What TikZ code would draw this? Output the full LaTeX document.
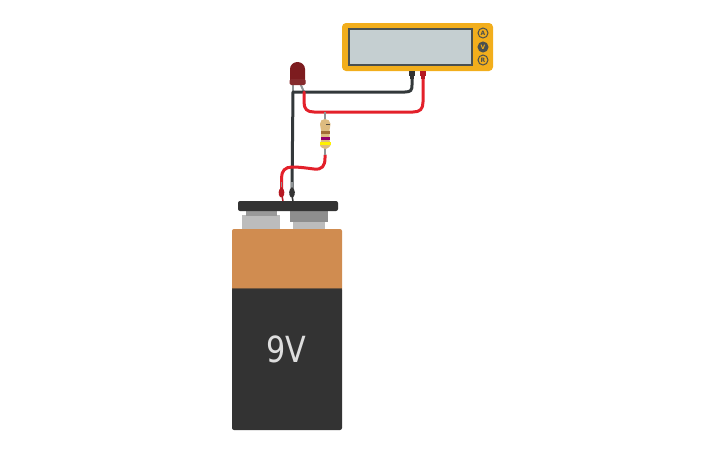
\documentclass[tikz,border=0pt]{standalone}
\usepackage{fontspec}
\setsansfont{DejaVu Sans}
\definecolor{bodydark}{HTML}{333333}
\definecolor{bodyorange}{HTML}{D08C50}
\definecolor{termlight}{HTML}{BCBCBC}
\definecolor{termdark}{HTML}{8E8E8E}
\definecolor{meterorange}{HTML}{F2AE1C}
\definecolor{screenfill}{HTML}{C5CFD1}
\definecolor{screenedge}{HTML}{4A5050}
\definecolor{wirered}{HTML}{E3202A}
\definecolor{wireblack}{HTML}{33383A}
\definecolor{ledred}{HTML}{7D1C1F}
\definecolor{leadgrey}{HTML}{8F9496}
\definecolor{resbody}{HTML}{DDBB7F}
\tikzset{
  meterbutton/.style={circle, draw=screenedge, line width=1pt, minimum size=10pt, inner sep=0pt, text=screenedge, font=\sffamily\bfseries\fontsize{6}{6}\selectfont},
  wire/.style={line width=3pt, line cap=round},
  lead/.style={line width=2pt, leadgrey},
  band/.style={line width=#1}
}
\begin{document}
\begin{tikzpicture}[x=1pt, y=-1pt]
  \useasboundingbox (0, 0) rectangle (725, 453);

  % battery
  \fill[bodyorange, rounded corners=2pt] (232, 229) rectangle (342, 292);
  \fill[bodydark, rounded corners=2pt] (232, 288) rectangle (342, 430);
  \fill[bodydark!60!bodyorange] (232, 288) rectangle (342, 289);
  \node[text=white!87!black, xscale=0.84, font=\sffamily\fontsize{36}{36}\selectfont] (label) at (286.5, 349.5) {9V};
  \fill[termlight] (242, 215) rectangle (280, 229);
  \fill[termdark!90!white] (246, 211) rectangle (277, 216);
  \fill[termlight] (293, 221) rectangle (325, 229);
  \fill[termdark] (290, 211) rectangle (328, 222);
  \fill[bodydark, rounded corners=2pt] (238, 201) rectangle (338, 211);

  % meter
  \fill[meterorange, rounded corners=4pt] (342, 23) rectangle (493, 71);
  \filldraw[fill=screenfill, draw=screenedge, line width=2pt] (349, 29) rectangle (472, 65);
  \node[meterbutton] (btnA) at (483, 33) {A};
  \node[meterbutton, fill=screenedge, text=meterorange] (btnV) at (483, 47) {V};
  \node[meterbutton] (btnR) at (483, 60) {R};

  % named points
  \coordinate (ledk) at (293, 92);
  \coordinate (leda) at (304, 92);
  \coordinate (meterneg) at (412, 77);
  \coordinate (meterpos) at (423, 77);
  \coordinate (restop) at (325, 112);
  \coordinate (resbot) at (325, 155);
  \coordinate (clipred) at (281.5, 190);
  \coordinate (clipblack) at (292, 190);

  % led
  \draw[lead] (293, 83) -- (ledk);
  \draw[lead] (300, 83) -- (leda);
  \fill[ledred] (290, 84) -- (290, 69) arc[start angle=180, end angle=360, x radius=7.5, y radius=7] -- (305, 84) -- cycle;
  \fill[ledred!94!white, rounded corners=1.5pt] (289.5, 79) rectangle (305.5, 85);

  % wires
  \draw[wire, wireblack] (clipblack) -- (ledk);
  \draw[wire, wireblack] (ledk) -- (405, 92) .. controls (411, 92) and (412, 90) .. (412, 85) -- (meterneg);
  \draw[wire, wirered] (leda) -- (304, 102) .. controls (304, 109) and (307, 112) .. (314, 112) -- (413, 112) .. controls (420, 112) and (423, 109) .. (423, 102) -- (meterpos);
  \draw[wire, wirered] (resbot) -- (325, 158) .. controls (325, 166) and (322, 170) .. (314, 169) .. controls (306, 168) and (300, 167) .. (292, 167) .. controls (285, 167) and (281.5, 171) .. (281.5, 178) -- (clipred);

  % resistor
  \draw[lead] (restop) -- (325, 155);
  \fill[resbody] (325, 119) .. controls (322, 119) and (320, 121) .. (320, 124) .. controls (320, 127) and (321, 128) .. (321, 130) -- (321, 140) .. controls (321, 142) and (320, 143) .. (320, 145) .. controls (320, 146.5) and (323, 149) .. (325, 149) .. controls (327, 149) and (330.5, 146.5) .. (330.5, 145) .. controls (330.5, 143) and (329.5, 142) .. (329.5, 140) -- (329.5, 130) .. controls (329.5, 128) and (330.5, 127) .. (330.5, 124) .. controls (330.5, 121) and (328, 119) .. (325, 119) -- cycle;
  \draw[band=1pt, bodydark!80!resbody] (326, 124.5) -- (330, 124.5);
  \draw[band=3pt, brown!85!black] (321, 132.5) -- (329.5, 132.5);
  \draw[band=3pt, violet!85!red] (321, 138) -- (329.5, 138);
  \draw[band=3.5pt, yellow] (320, 143.5) -- (330.5, 143.5);

  % clips
  \draw[lead, line width=1.5pt] (281.5, 182) -- (281.5, 190);
  \fill[wirered!80!black] (281.5, 187) .. controls (278, 190) and (278, 194) .. (280, 197) -- (283, 197) .. controls (285, 194) and (285, 190) .. (281.5, 187) -- cycle;
  \draw[wirered!80!black, line width=1.5pt] (282, 196) -- (283, 201);
  \draw[lead, line width=1.5pt] (292, 182) -- (292, 190);
  \fill[bodydark] (292, 187) .. controls (288.5, 190) and (288.5, 194) .. (290.5, 197) -- (293.5, 197) .. controls (295.5, 194) and (295.5, 190) .. (292, 187) -- cycle;
  \draw[bodydark, line width=1.5pt] (292, 196) -- (293, 201);

  % meter plugs
  \fill[bodydark] (409, 71) rectangle (415, 76);
  \fill[bodydark] (410, 76) rectangle (414, 79);
  \fill[wirered!80!black] (420, 71) rectangle (426, 76);
  \fill[wirered!80!black] (421, 76) rectangle (425, 79);
\end{tikzpicture}
\end{document}
